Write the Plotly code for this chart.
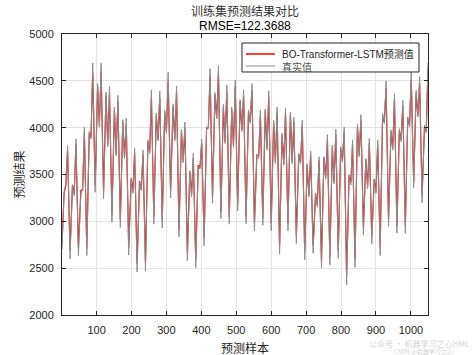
import plotly.graph_objects as go

# ---- data (daily cycles of 24 samples) ----
period = 24
phase_p1, phase_dip, phase_p2 = 7, 12, 17
start_sample = 1
true_start = 2700
pred_start = 2760

true_trough = [2600, 2635, 2635, 3310, 3240, 2990, 2935, 2640, 2460, 2470, 2970, 2930, 3250, 2835,
               2580, 2505, 2740, 3195, 3030, 2970, 3110, 2975, 2900, 2960, 2900, 2650, 2900, 2765,
               2590, 2660, 2500, 2535, 2605, 2320, 2510, 2855, 2760, 2635, 2945, 2875, 2870, 3360, 3200]
true_p1 = [3320, 3385, 3300, 3960, 4470, 4380, 4220, 4085, 3450, 3420, 3870, 4155, 4185, 4255, 3980,
           3540, 3590, 4010, 4375, 4250, 4220, 4300, 4190, 3720, 4200, 4080, 3940, 4165, 3725, 3615,
           3290, 3690, 3815, 3795, 3495, 4035, 3670, 3445, 4150, 3975, 3990, 4115, 4400, 4030]
true_dip = [3400, 3275, 3340, 3880, 4005, 3795, 3700, 3670, 3300, 3330, 3720, 3860, 3940, 3860, 3625,
            3260, 3560, 3990, 4095, 3830, 3790, 3960, 4045, 3670, 3760, 3620, 3600, 3615, 3615, 3260,
            3150, 3450, 3400, 3635, 3390, 3690, 3350, 3300, 4045, 3760, 3850, 4010, 4115, 3945]
true_p2 = [3810, 3880, 4005, 4690, 4690, 4440, 4345, 4100, 3780, 3760, 4400, 4390, 4590, 4445, 4060,
           3725, 3880, 4630, 4660, 4455, 4510, 4405, 4470, 4190, 4395, 4220, 4210, 4110, 4080, 3750,
           3690, 3925, 3985, 4005, 3870, 4140, 3885, 3865, 4500, 4360, 4290, 4595, 4545, 4690]

pred_trough = [2690, 2720, 2710, 3380, 3320, 3070, 3010, 2720, 2550, 2560, 3050, 3010, 3330, 2910,
               2660, 2590, 2820, 3270, 3100, 3050, 3180, 3050, 2980, 3030, 2980, 2730, 2980, 2840,
               2670, 2740, 2590, 2620, 2690, 2420, 2600, 2930, 2840, 2720, 3020, 2950, 2950, 3420, 3280]
pred_p1 = [3300, 3390, 3330, 3940, 4440, 4340, 4190, 4060, 3460, 3430, 3850, 4130, 4160, 4230, 3960,
           3530, 3600, 3990, 4350, 4220, 4190, 4280, 4170, 3710, 4180, 4060, 3920, 4140, 3710, 3600,
           3300, 3680, 3790, 3780, 3490, 4010, 3660, 3450, 4120, 3960, 3970, 4100, 4370, 4010]
pred_dip = [3380, 3300, 3330, 3900, 4030, 3820, 3720, 3690, 3320, 3340, 3740, 3880, 3960, 3880, 3650,
            3290, 3570, 4000, 4110, 3850, 3810, 3980, 4060, 3690, 3780, 3640, 3620, 3640, 3630, 3290,
            3180, 3470, 3420, 3650, 3410, 3710, 3370, 3320, 4060, 3780, 3870, 4030, 4130, 3960]
pred_p2 = [3760, 3820, 3940, 4590, 4600, 4370, 4280, 4040, 3730, 3710, 4320, 4320, 4500, 4380, 4000,
           3680, 3830, 4550, 4580, 4390, 4440, 4340, 4400, 4130, 4330, 4160, 4150, 4060, 4030, 3710,
           3650, 3870, 3930, 3950, 3820, 4080, 3840, 3820, 4420, 4300, 4230, 4510, 4470, 4620]

x_ticks = [100, 200, 300, 400, 500, 600, 700, 800, 900, 1000]
y_ticks = [2000, 2500, 3000, 3500, 4000, 4500, 5000]
title_line1 = "训练集预测结果对比"
title_line2 = "RMSE=122.3688"
name_pred = "BO-Transformer-LSTM预测值"
name_true = "真实值"
x_label = "预测样本"
y_label = "预测结果"
watermark1 = "公众号 · 机器学习之心HML"
watermark2 = "CSDN @机器学习之心"

RED = "#ff0000"
GREY = "#8c8c8c"
INK = "#262626"


def build(start, trough, p1, dip, p2):
    xs, ys = [start_sample], [start]
    for k in range(len(p1)):
        if k > 0:
            xs.append(period * k)
            ys.append(trough[k - 1])
        xs += [period * k + phase_p1, period * k + phase_dip, period * k + phase_p2]
        ys += [p1[k], dip[k], p2[k]]
    return xs, ys


xt, yt = build(true_start, true_trough, true_p1, true_dip, true_p2)
xp, yp = build(pred_start, pred_trough, pred_p1, pred_dip, pred_p2)

fig = go.Figure()
fig.add_trace(go.Scatter(x=xp, y=yp, mode="lines", name=name_pred, showlegend=False,
                         line=dict(color=RED, width=1.2), hoverinfo="skip"))
fig.add_trace(go.Scatter(x=xt, y=yt, mode="lines", name=name_true, showlegend=False,
                         line=dict(color=GREY, width=1), hoverinfo="skip"))

axis_common = dict(showline=True, linecolor=INK, linewidth=1, mirror="allticks",
                   ticks="inside", ticklen=4, tickcolor=INK, showgrid=True,
                   gridcolor="#e3e3e3", gridwidth=1, zeroline=False,
                   tickfont=dict(family="Liberation Sans, Arial", size=11, color=INK))

fig.update_xaxes(range=[start_sample, xt[-1]], tickvals=x_ticks, ticklabelstandoff=5, **axis_common)
fig.update_yaxes(range=[2000, 5000], tickvals=y_ticks, ticklabelstandoff=5, **axis_common)

# legend drawn as shapes + text (box, two line samples, labels)
leg_x0, leg_x1, leg_y0, leg_y1 = 0.4918, 0.9754, 0.8648, 0.968
sample_x0, sample_x1, text_x = 0.5027, 0.582, 0.5956
row_y = [0.9288, 0.8861]

shapes = [
    dict(type="rect", xref="paper", yref="paper", x0=leg_x0, x1=leg_x1, y0=leg_y0, y1=leg_y1,
         line=dict(color=INK, width=1), fillcolor="white", layer="above"),
    dict(type="line", xref="paper", yref="paper", x0=sample_x0, x1=sample_x1, y0=row_y[0], y1=row_y[0],
         line=dict(color=RED, width=1.5), layer="above"),
    dict(type="line", xref="paper", yref="paper", x0=sample_x0, x1=sample_x1, y0=row_y[1], y1=row_y[1],
         line=dict(color=GREY, width=1), layer="above"),
]

annotations = [
    dict(text=title_line1, xref="paper", yref="paper", x=0.5, y=1.085, showarrow=False,
         yanchor="middle", font=dict(family="Noto Sans CJK SC", size=12, color="#333333")),
    dict(text=title_line2, xref="paper", yref="paper", x=0.5, y=1.027, showarrow=False,
         yanchor="middle", font=dict(family="Liberation Sans, Arial", size=12, color="#000000")),
    dict(text=x_label, xref="paper", yref="paper", x=0.5, y=-0.114, showarrow=False,
         yanchor="middle", font=dict(family="Noto Sans CJK SC", size=12, color=INK)),
    dict(text=y_label, xref="paper", yref="paper", x=-0.1175, y=0.5, showarrow=False,
         textangle=-90, xanchor="center", yanchor="middle",
         font=dict(family="Noto Sans CJK SC", size=12, color=INK)),
    dict(text=name_pred, xref="paper", yref="paper", x=text_x, y=row_y[0], showarrow=False,
         xanchor="left", yanchor="middle",
         font=dict(family="Liberation Sans, Noto Sans CJK SC", size=10, color=INK)),
    dict(text=name_true, xref="paper", yref="paper", x=text_x, y=row_y[1], showarrow=False,
         xanchor="left", yanchor="middle",
         font=dict(family="Noto Sans CJK SC", size=10, color="#555555")),
    dict(text=watermark1, xref="paper", yref="paper", x=1.12, y=-0.1014,
         xanchor="right", yanchor="middle", showarrow=False,
         font=dict(family="Noto Sans CJK SC", size=8, color="rgba(160,160,160,0.5)")),
    dict(text=watermark2, xref="paper", yref="paper", x=1.075, y=-0.1299,
         xanchor="right", yanchor="middle", showarrow=False,
         font=dict(family="Noto Sans CJK SC", size=6, color="rgba(160,160,160,0.5)")),
]

fig.update_layout(
    width=474, height=355,
    margin=dict(l=62, r=46, t=34, b=40),
    paper_bgcolor="white", plot_bgcolor="white",
    showlegend=False,
    hovermode=False,
    shapes=shapes,
    annotations=annotations,
)

fig.write_html("out.html", config={"displayModeBar": False, "staticPlot": True},
               post_script="document.body.style.margin='0px';")
